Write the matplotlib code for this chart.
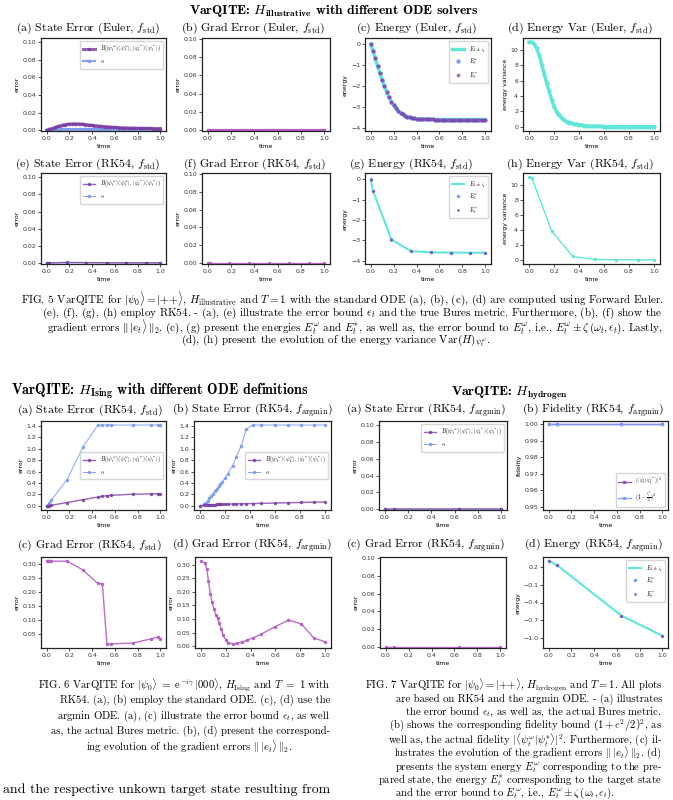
import numpy as np
import matplotlib.pyplot as plt
from matplotlib.ticker import MultipleLocator

plt.rcParams['mathtext.fontset'] = 'cm'
plt.rcParams['font.size'] = 4.5
plt.rcParams['axes.linewidth'] = 0.9
plt.rcParams['xtick.major.size'] = 2
plt.rcParams['ytick.major.size'] = 2
plt.rcParams['xtick.major.width'] = 0.6
plt.rcParams['ytick.major.width'] = 0.6
plt.rcParams['xtick.major.pad'] = 1.5
plt.rcParams['ytick.major.pad'] = 1.5
plt.rcParams['xtick.color'] = '#333333'
plt.rcParams['ytick.color'] = '#333333'
plt.rcParams['axes.edgecolor'] = '#222222'

# ---- Fig. 5 data (H_illustrative) ----
t_euler = [0.00, 0.02, 0.04, 0.06, 0.08, 0.10, 0.12, 0.14, 0.16, 0.18,
           0.20, 0.22, 0.24, 0.26, 0.28, 0.30, 0.32, 0.34, 0.36, 0.38,
           0.40, 0.42, 0.44, 0.46, 0.48, 0.50, 0.52, 0.54, 0.56, 0.58,
           0.60, 0.62, 0.64, 0.66, 0.68, 0.70, 0.72, 0.74, 0.76, 0.78,
           0.80, 0.82, 0.84, 0.86, 0.88, 0.90, 0.92, 0.94, 0.96, 0.98, 1.00]
bures_euler = [0.0000, 0.0008, 0.0016, 0.0025, 0.0034, 0.0042, 0.0050, 0.0057, 0.0062, 0.0066,
               0.0069, 0.0071, 0.0072, 0.0072, 0.0071, 0.0069, 0.0067, 0.0064, 0.0061, 0.0058,
               0.0055, 0.0052, 0.0049, 0.0046, 0.0044, 0.0041, 0.0039, 0.0037, 0.0035, 0.0033,
               0.0031, 0.0030, 0.0028, 0.0027, 0.0026, 0.0025, 0.0024, 0.0023, 0.0022, 0.0022,
               0.0021, 0.0021, 0.0020, 0.0020, 0.0019, 0.0019, 0.0019, 0.0018, 0.0018, 0.0018, 0.0018]
eps_euler = [0.0000, 0.0002, 0.0004, 0.0005, 0.0006, 0.0007, 0.0008, 0.0009, 0.0009, 0.0010,
             0.0010, 0.0010, 0.0011, 0.0011, 0.0011, 0.0011, 0.0011, 0.0011, 0.0011, 0.0011,
             0.0011, 0.0011, 0.0011, 0.0011, 0.0011, 0.0011, 0.0011, 0.0011, 0.0011, 0.0011,
             0.0011, 0.0011, 0.0011, 0.0011, 0.0011, 0.0011, 0.0011, 0.0011, 0.0011, 0.0011,
             0.0011, 0.0011, 0.0011, 0.0011, 0.0011, 0.0011, 0.0011, 0.0011, 0.0011, 0.0011, 0.0011]
grad_euler = [0.0] * len(t_euler)
energy_euler = [0.00, -0.30, -0.68, -1.05, -1.39, -1.71, -2.01, -2.30, -2.54, -2.75,
                -2.92, -3.07, -3.19, -3.29, -3.36, -3.42, -3.46, -3.50, -3.52, -3.54,
                -3.56, -3.57, -3.58, -3.585, -3.59, -3.59, -3.595, -3.595, -3.60, -3.60,
                -3.60, -3.60, -3.60, -3.60, -3.60, -3.60, -3.60, -3.60, -3.60, -3.60,
                -3.60, -3.60, -3.60, -3.60, -3.60, -3.60, -3.60, -3.60, -3.60, -3.60, -3.60]
energy_target_euler = list(energy_euler)
var_euler = [11.0, 11.0, 10.8, 10.2, 9.3, 8.1, 6.9, 5.7, 4.6, 3.5,
             2.6, 1.95, 1.5, 1.15, 0.88, 0.68, 0.55, 0.45, 0.37, 0.30,
             0.24, 0.19, 0.15, 0.12, 0.10, 0.08, 0.07, 0.06, 0.05, 0.04,
             0.035, 0.03, 0.025, 0.02, 0.02, 0.015, 0.01, 0.01, 0.01, 0.01,
             0.01, 0.01, 0.01, 0.0, 0.0, 0.0, 0.0, 0.0, 0.0, 0.0, 0.0]

t_rk = [0.0, 0.02, 0.18, 0.35, 0.53, 0.70, 0.87, 1.0]
bures_rk = [0.0, 0.0003, 0.0008, 0.0006, 0.0004, 0.0003, 0.0003, 0.0003]
eps_rk = [0.0, 0.0002, 0.0005, 0.0005, 0.0005, 0.0005, 0.0005, 0.0005]
grad_rk = [0.0, 0.0, 0.0, 0.0, 0.0, 0.0, 0.0, 0.0]
energy_rk = [0.0, -0.58, -2.95, -3.52, -3.58, -3.59, -3.60, -3.60]
energy_target_rk = [-0.02, -0.58, -2.96, -3.53, -3.58, -3.59, -3.60, -3.60]
var_rk = [11.0, 10.95, 3.85, 0.45, 0.05, 0.01, 0.0, 0.0]

# ---- Fig. 6 data (H_Ising) ----
t_ising_std = [0.0, 0.01, 0.02, 0.04, 0.18, 0.32, 0.45, 0.49, 0.53, 0.57, 0.76, 0.92, 0.98, 1.0]
bures_ising_std = [0.0, 0.003, 0.006, 0.012, 0.06, 0.11, 0.155, 0.17, 0.18, 0.185, 0.205, 0.21, 0.212, 0.212]
eps_ising_std = [0.0, 0.02, 0.05, 0.10, 0.46, 1.03, 1.41, 1.41, 1.41, 1.41, 1.41, 1.41, 1.41, 1.41]
grad_ising_std = [0.312, 0.312, 0.312, 0.312, 0.312, 0.28, 0.232, 0.231, 0.015, 0.015, 0.018, 0.033, 0.040, 0.034]

t_ising_am = [0.0, 0.03, 0.044, 0.059, 0.074, 0.088, 0.103, 0.118, 0.132, 0.147, 0.162, 0.176, 0.20,
              0.22, 0.26, 0.29, 0.33, 0.37, 0.42, 0.485, 0.60, 0.706, 0.81, 0.91, 1.0]
bures_ising_am = [0.0, 0.008, 0.012, 0.015, 0.018, 0.020, 0.022, 0.024, 0.026, 0.027, 0.028, 0.029, 0.031,
                  0.032, 0.034, 0.036, 0.038, 0.040, 0.042, 0.045, 0.050, 0.056, 0.061, 0.066, 0.068]
eps_ising_am = [0.0, 0.03, 0.06, 0.09, 0.13, 0.17, 0.21, 0.26, 0.30, 0.34, 0.38, 0.42, 0.49,
                0.56, 0.70, 0.86, 1.05, 1.34, 1.41, 1.41, 1.41, 1.41, 1.41, 1.41, 1.41]
grad_ising_am = [0.314, 0.306, 0.286, 0.240, 0.194, 0.162, 0.138, 0.116, 0.104, 0.084, 0.062, 0.042, 0.022,
                 0.012, 0.008, 0.010, 0.014, 0.022, 0.030, 0.044, 0.072, 0.096, 0.082, 0.030, 0.016]

# ---- Fig. 7 data (H_hydrogen) ----
t_h2 = [0.0, 0.076, 0.64, 1.0]
bures_h2 = [0.0, 0.0001, 0.0002, 0.0002]
eps_h2 = [0.0, 0.0002, 0.0003, 0.0003]
fid_h2 = [1.0, 1.0, 1.0, 1.0]
fid_bound_h2 = [1.0, 1.0, 1.0, 1.0]
grad_h2 = [0.0, 0.0, 0.0, 0.0]
energy_h2 = [0.30, 0.22, -0.62, -0.955]
energy_target_h2 = [0.30, 0.22, -0.62, -0.955]

C_BURES = '#7b3fa3'
C_EPS = '#7d9bf0'
C_GRAD = '#b260c2'
C_BAND = '#5fe8d8'
C_EW = '#7d9bf0'

LBL_B = r'$B(|\psi_t^\omega\rangle\langle\psi_t^\omega|,\,|\psi_t^*\rangle\langle\psi_t^*|)$'
LBL_E = r'$\epsilon_t$'

W, H = 673, 800
fig = plt.figure(figsize=(6.73, 8.0), dpi=100)


def box(l, t, r, b):
    ax = fig.add_axes([l / W, 1 - b / H, (r - l) / W, (b - t) / H])
    ax.set_xlim(-0.05, 1.05)
    ax.set_xlabel('time', labelpad=2)
    return ax


def put(x, y, s, **kw):
    kw.setdefault('ha', 'center')
    kw.setdefault('va', 'center')
    fig.text(x / W, 1 - y / H, s, **kw)


def title(x, y, s):
    put(x, y, s, fontsize=8.5, fontfamily='cmr10')


def state_err(ax, t, b, e, lw=1.0, ms=3, loc='upper right'):
    ax.plot(t, e, '.-', color=C_EPS, lw=lw * 0.7, ms=ms, alpha=0.9, label=LBL_E)
    ax.plot(t, b, '.-', color=C_BURES, lw=lw, ms=ms, alpha=0.8, label=LBL_B)
    h, l = ax.get_legend_handles_labels()
    ax.set_ylabel('error', labelpad=2)
    ax.legend(h[::-1], l[::-1], loc=loc, fontsize=4, handlelength=2.2, borderpad=0.5)


def grad_err(ax, t, g, lw=1.0, ms=3):
    ax.plot(t, g, '.-', color=C_GRAD, lw=lw, ms=ms, alpha=0.9)
    ax.set_ylabel('error', labelpad=2)


def energy(ax, t, e, et, lw=1.5, ms=3):
    ax.plot(t, e, '-', color=C_BAND, lw=lw, label=r'$E_t \pm \zeta$')
    ax.plot(t, e, '.', color=C_EW, ms=ms, alpha=0.9, label=r'$E_t^\omega$')
    ax.plot(t, et, '.', color=C_BURES, ms=ms * 0.8, alpha=0.6, label=r'$E_t^*$')
    ax.set_ylabel('energy', labelpad=2)
    ax.legend(loc='upper right', fontsize=4, handlelength=2.2, borderpad=0.5)


# ================= Fig. 5 =================
put(334, 11, r'VarQITE: $H_{\mathbf{illustrative}}$ with different ODE solvers',
    fontsize=9.8, fontfamily='cmb10')

ax = box(41, 38, 166, 131)
state_err(ax, t_euler, bures_euler, eps_euler, lw=2.2, ms=3)
ax.set_ylim(-0.001, 0.105)
title(88, 28, r'(a) State Error (Euler, $f_{\mathrm{std}}$)')

ax = box(202, 38, 330, 131)
grad_err(ax, t_euler, grad_euler, lw=2.2, ms=3)
ax.set_ylim(-0.001, 0.101)
title(253, 28, r'(b) Grad Error (Euler, $f_{\mathrm{std}}$)')

ax = box(365, 38, 491, 131)
energy(ax, t_euler, energy_euler, energy_target_euler, lw=2.5, ms=4.5)
ax.set_ylim(-4.15, 0.3)
title(417, 28, r'(c) Energy (Euler, $f_{\mathrm{std}}$)')

ax = box(523, 38, 660, 131)
ax.plot(t_euler, var_euler, '.-', color=C_BAND, lw=2.5, ms=4)
ax.set_ylabel('energy variance', labelpad=2)
title(580, 28, r'(d) Energy Var (Euler, $f_{\mathrm{std}}$)')

ax = box(41, 173, 166, 264)
state_err(ax, t_rk, bures_rk, eps_rk)
ax.set_ylim(-0.001, 0.105)
title(88, 164, r'(e) State Error (RK54, $f_{\mathrm{std}}$)')

ax = box(202, 173, 330, 264)
grad_err(ax, t_rk, grad_rk)
ax.set_ylim(-0.001, 0.101)
title(255, 164, r'(f) Grad Error (RK54, $f_{\mathrm{std}}$)')

ax = box(365, 173, 491, 264)
energy(ax, t_rk, energy_rk, energy_target_rk)
ax.set_ylim(-4.15, 0.3)
title(411, 164, r'(g) Energy (RK54, $f_{\mathrm{std}}$)')

ax = box(523, 173, 660, 264)
ax.plot(t_rk, var_rk, '.-', color=C_BAND, lw=1.0, ms=3)
ax.set_ylabel('energy variance', labelpad=2)
title(580, 164, r'(h) Energy Var (RK54, $f_{\mathrm{std}}$)')

cap = dict(fontsize=8.0, fontfamily='cmr10')
put(342, 299, r'FIG. 5 VarQITE for $|\psi_0\rangle = |{+}{+}\rangle$, $H_{\mathrm{illustrative}}$ and $T = 1$ with the standard ODE (a), (b), (c), (d) are computed using Forward Euler.', **cap)
put(662, 313, r'(e), (f), (g), (h) employ RK54. - (a), (e) illustrate the error bound $\epsilon_t$ and the true Bures metric. Furthermore, (b), (f) show the', ha='right', **cap)
put(662, 327, r'gradient errors $\Vert\,|e_t\rangle\,\Vert_2$. (c), (g) present the energies $E_t^{\omega}$ and $E_t^{*}$, as well as, the error bound to $E_t^{\omega}$, i.e., $E_t^{\omega} \pm \zeta\,(\omega_t, \epsilon_t)$. Lastly,', ha='right', **cap)
put(336, 341, r'(d), (h) present the evolution of the energy variance Var$(H)_{\psi_t^{\omega}}$.', **cap)

# ================= Fig. 6 =================
put(160, 391, r'VarQITE: $H_{\mathbf{Ising}}$ with different ODE definitions',
    fontsize=10.2, fontfamily='cmb10')

ax = box(41, 421, 166, 510)
state_err(ax, t_ising_std, bures_ising_std, eps_ising_std, loc='center right')
ax.yaxis.set_major_locator(MultipleLocator(0.2))
title(90, 410, r'(a) State Error (RK54, $f_{\mathrm{std}}$)')

ax = box(194, 421, 331, 510)
state_err(ax, t_ising_am, bures_ising_am, eps_ising_am, loc='center right')
ax.yaxis.set_major_locator(MultipleLocator(0.2))
title(252, 410, r'(b) State Error (RK54, $f_{\mathrm{argmin}}$)')

ax = box(41, 557, 166, 648)
grad_err(ax, t_ising_std, grad_ising_std)
title(89, 545, r'(c) Grad Error (RK54, $f_{\mathrm{std}}$)')

ax = box(195, 557, 331, 648)
grad_err(ax, t_ising_am, grad_ising_am)
title(252, 545, r'(d) Grad Error (RK54, $f_{\mathrm{argmin}}$)')

cap2 = dict(fontsize=7.7, fontfamily='cmr10')
put(330, 685, r'FIG. 6 VarQITE for $|\psi_0\rangle\ =\ \mathrm{e}^{-i\gamma}\,|000\rangle$, $H_{\mathrm{Ising}}$ and $T\ =\ 1$ with', ha='right', **cap2)
put(330, 700, r'RK54. (a), (b) employ the standard ODE. (c), (d) use the', ha='right', **cap2)
put(330, 716, r'argmin ODE. (a), (c) illustrate the error bound $\epsilon_t$, as well', ha='right', **cap2)
put(330, 731, r'as, the actual Bures metric. (b), (d) present the correspond-', ha='right', **cap2)
put(189, 747, r'ing evolution of the gradient errors $\Vert\,|e_t\rangle\,\Vert_2$.', **cap2)
put(167, 790, 'and the respective unkown target state resulting from',
    fontsize=10, fontfamily='cmr10')

# ================= Fig. 7 =================
put(510, 393, r'VarQITE: $H_{\mathbf{hydrogen}}$', fontsize=9.8, fontfamily='cmb10')

ax = box(379, 421, 507, 510)
state_err(ax, t_h2, bures_h2, eps_h2)
ax.set_ylim(-0.001, 0.105)
title(426, 410, r'(a) State Error (RK54, $f_{\mathrm{argmin}}$)')

ax = box(543, 421, 668, 510)
ax.plot(t_h2, fid_h2, '.-', color=C_BURES, lw=1.0, ms=3, alpha=0.8,
        label=r'$|\langle\psi_t|\psi_t^*\rangle|^2$')
ax.plot(t_h2, fid_bound_h2, '.-', color=C_EPS, lw=1.0, ms=3, alpha=0.9,
        label=r'$(1-\frac{\epsilon_t^2}{2})^2$')
ax.set_ylim(0.948, 1.002)
ax.set_ylabel('fidelity', labelpad=2)
ax.legend(loc='lower right', fontsize=4, handlelength=2.2, borderpad=0.5)
title(593, 410, r'(b) Fidelity (RK54, $f_{\mathrm{argmin}}$)')

ax = box(380, 557, 506, 648)
grad_err(ax, t_h2, grad_h2)
ax.set_ylim(-0.001, 0.101)
title(426, 545, r'(c) Grad Error (RK54, $f_{\mathrm{argmin}}$)')

ax = box(543, 557, 668, 648)
energy(ax, t_h2, energy_h2, energy_target_h2)
ax.set_ylim(-1.16, 0.36)
ax.set_yticks([0.2, -0.1, -0.4, -0.7, -1.0])
title(593, 545, r'(d) Energy (RK54, $f_{\mathrm{argmin}}$)')

put(662, 685, r'FIG. 7 VarQITE for $|\psi_0\rangle = |{+}{+}\rangle$, $H_{\mathrm{hydrogen}}$ and $T = 1$. All plots', ha='right', **cap2)
put(662, 699, r'are based on RK54 and the argmin ODE. - (a) illustrates', ha='right', **cap2)
put(662, 712, r'the error bound $\epsilon_t$, as well as, the actual Bures metric.', ha='right', **cap2)
put(662, 726, r'(b) shows the corresponding fidelity bound $\left(1 + \epsilon^2/2\right)^2$, as', ha='right', **cap2)
put(662, 740, r'well as, the actual fidelity $|\langle\psi_t^{\omega}|\psi_t^{*}\rangle|^2$. Furthermore, (c) il-', ha='right', **cap2)
put(662, 753, r'lustrates the evolution of the gradient errors $\Vert\,|e_t\rangle\,\Vert_2$. (d)', ha='right', **cap2)
put(662, 767, r'presents the system energy $E_t^{\omega}$ corresponding to the pre-', ha='right', **cap2)
put(662, 780, r'pared state, the energy $E_t^{*}$ corresponding to the target state', ha='right', **cap2)
put(505, 793, r'and the error bound to $E_t^{\omega}$, i.e., $E_t^{\omega} \pm \zeta\,(\omega_t, \epsilon_t)$.', **cap2)

fig.savefig('out.png', dpi=100)
